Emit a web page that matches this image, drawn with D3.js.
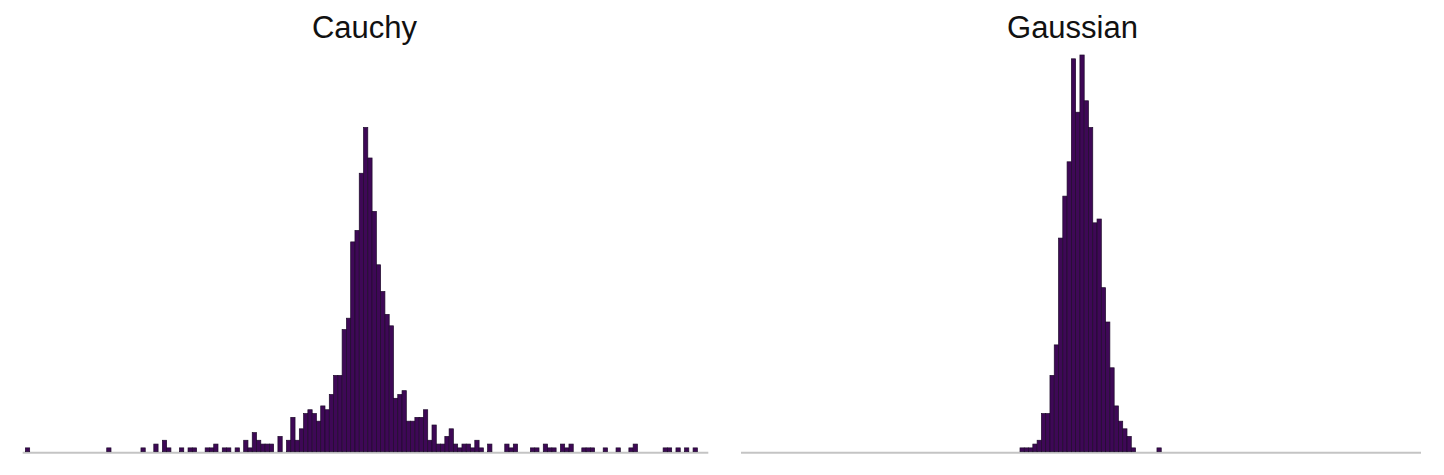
<!DOCTYPE html>
<html>
<head>
<meta charset="utf-8">
<script src="https://cdn.jsdelivr.net/npm/d3@7"></script>
<style>
    html, body { margin: 0; padding: 0; background: #fff; }
    .title { font-family: "Liberation Sans", Arial, sans-serif; font-size: 31px; fill: #111; }
</style>
</head>
<body>
<div id="chart"></div>
<script>
'use strict';

/*
Data (counts per bin, 1000 samples each)
 */
const titles = ['Cauchy', 'Gaussian'];

const cauchyCounts = [
    1, 0, 0, 0, 0, 0, 0, 0, 0, 0, 0, 0, 0, 0, 0, 0, 0, 0, 0, 1,
    0, 0, 0, 0, 0, 0, 0, 1, 0, 0, 2, 0, 3, 1, 0, 0, 1, 0, 1, 1,
    0, 0, 1, 1, 2, 0, 1, 1, 0, 1, 0, 3, 1, 5, 3, 2, 2, 2, 0, 4,
    0, 3, 9, 3, 6, 10, 11, 10, 8, 12, 11, 15, 20, 20, 32, 35, 55, 58, 73, 85,
    77, 63, 49, 42, 36, 33, 14, 15, 16, 8, 8, 9, 9, 11, 3, 7, 2, 2, 4, 6,
    2, 1, 2, 2, 1, 3, 1, 0, 2, 0, 0, 0, 2, 1, 2, 0, 0, 0, 1, 1,
    0, 2, 1, 1, 0, 2, 1, 2, 0, 0, 1, 1, 1, 0, 0, 1, 0, 0, 1, 0,
    0, 1, 2, 0, 0, 0, 0, 0, 0, 1, 1, 0, 1, 0, 1, 0, 1
];

const gaussianCounts = [
    1, 1, 1, 2, 3, 10, 10, 20, 28, 56, 67, 76, 103, 89, 104, 92, 85, 60, 61, 43,
    34, 22, 12, 8, 6, 4, 1, 0, 0, 0, 0, 0, 1
];

/*
Histogram
 */
class Histogram {

    // Elements
    svg = null;
    panels = [];

    // Configs
    svgW = 1444;
    svgH = 475;
    baseY = 451.7;
    topY = 55;
    titleY = 38;
    binW = 4.28;
    panelConfs = [
        {left: 22.7, right: 708.3, firstBinX: 25.4, titleX: 364.5},
        {left: 741, right: 1421, firstBinX: 1020, titleX: 1072.5}
    ];

    // Tools
    yScale = d3.scaleLinear();

    /*
    Constructor
     */
    constructor(_series, _titles, _target) {
        this.series = _series;
        this.titles = _titles;
        this.target = _target;
        this.init();
    }

    /*
    1. Init
     */
    init() {
        // Define this vis
        const vis = this;

        // Set up the svg work space
        vis.svg = d3.select(`#${vis.target}`)
            .append('svg')
            .attr('width', vis.svgW)
            .attr('height', vis.svgH);

        // One g per panel
        vis.panels = vis.panelConfs.map((c, i) => vis.svg.append('g')
            .attr('class', `panel panel${i}`));

        vis.wrangle();
    }

    /*
    2. Wrangle
     */
    wrangle() {
        // Define this vis
        const vis = this;

        // Shared y domain from the tallest bin
        const maxCount = d3.max(vis.series, s => d3.max(s));
        vis.yScale.domain([0, maxCount]).range([vis.baseY, vis.topY]);

        // Build an x scale per panel in bin units
        vis.xScales = vis.panelConfs.map(c => d3.scaleLinear()
            .domain([
                (c.left - c.firstBinX) / vis.binW,
                (c.right - c.firstBinX) / vis.binW
            ])
            .range([c.left, c.right]));

        // Bins with a count
        vis.displayData = vis.series.map(s => s
            .map((count, i) => ({i: i, count: count}))
            .filter(d => d.count > 0));

        vis.render();
    }

    /*
    3. Render
     */
    render() {
        // Define this vis
        const vis = this;

        vis.panels.forEach((g, p) => {
            const x = vis.xScales[p];
            const conf = vis.panelConfs[p];

            // Baseline
            g.append('line')
                .attr('x1', conf.left)
                .attr('x2', conf.right)
                .attr('y1', vis.baseY + 1)
                .attr('y2', vis.baseY + 1)
                .attr('stroke', '#c4c4c4')
                .attr('stroke-width', 2);

            // Bars
            g.selectAll('.bar')
                .data(vis.displayData[p])
                .join('rect')
                .attr('class', 'bar')
                .attr('x', d => x(d.i))
                .attr('width', d => x(d.i + 1) - x(d.i))
                .attr('y', d => vis.yScale(d.count))
                .attr('height', d => vis.yScale(0) - vis.yScale(d.count))
                .attr('fill', '#3e0856')
                .attr('stroke', '#1e0b2b')
                .attr('stroke-width', 0.7);

            // Title
            g.append('text')
                .attr('class', 'title')
                .attr('x', conf.titleX)
                .attr('y', vis.titleY)
                .attr('text-anchor', 'middle')
                .text(vis.titles[p]);
        });
    }
}

new Histogram([cauchyCounts, gaussianCounts], titles, 'chart');
</script>
</body>
</html>
